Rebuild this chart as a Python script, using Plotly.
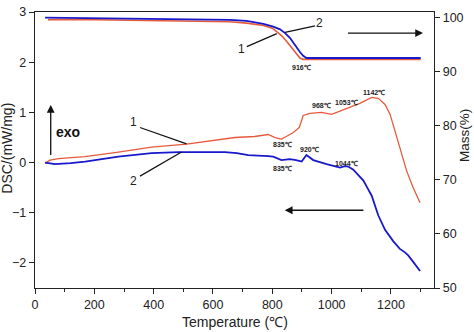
import plotly.graph_objects as go

# DSC curves (left axis)
dsc1_t = [34, 51, 79, 169, 281, 393, 511, 640, 674, 740, 786, 809, 831, 850, 871, 891,
          904, 927, 966, 1000, 1028, 1056, 1095, 1135, 1157, 1180, 1197, 1215, 1236, 1253,
          1275, 1298]
dsc1_v = [-0.01, 0.05, 0.08, 0.12, 0.21, 0.31, 0.37, 0.47, 0.50, 0.52, 0.56, 0.50, 0.47,
          0.53, 0.60, 0.70, 0.94, 0.98, 1.00, 0.96, 1.02, 1.09, 1.18, 1.30, 1.28, 1.16,
          0.96, 0.60, 0.18, -0.17, -0.50, -0.80]

dsc2_t = [34, 67, 120, 169, 281, 393, 483, 560, 640, 680, 719, 786, 803, 831, 859, 880,
          899, 915, 938, 983, 1028, 1045, 1056, 1073, 1084, 1095, 1107, 1120, 1135, 1157,
          1180, 1208, 1230, 1247, 1258, 1275, 1298]
dsc2_v = [0.00, -0.03, -0.01, 0.02, 0.12, 0.19, 0.21, 0.21, 0.21, 0.19, 0.15, 0.13, 0.12,
          0.05, 0.07, 0.05, 0.02, 0.15, 0.05, -0.03, -0.10, -0.07, -0.08, -0.14, -0.21,
          -0.30, -0.36, -0.50, -0.66, -1.05, -1.34, -1.57, -1.72, -1.79, -1.85, -1.98, -2.16]

# TG curves (right axis)
tg1_t = [44, 60, 200, 400, 600, 657, 713, 770, 800, 815, 830, 848, 862, 876, 886, 893,
         904, 950, 1050, 1150, 1300]
tg1_v = [99.55, 99.62, 99.58, 99.45, 99.30, 99.20, 98.95, 98.50, 98.00, 97.40, 96.70,
         95.60, 94.60, 93.50, 92.90, 92.50, 92.25, 92.25, 92.25, 92.25, 92.25]

tg2_t = [34, 100, 200, 300, 400, 500, 600, 657, 713, 770, 803, 826, 843, 860, 871, 882,
         893, 904, 910, 915, 950, 1050, 1150, 1300]
tg2_v = [99.95, 99.90, 99.85, 99.80, 99.72, 99.65, 99.58, 99.53, 99.35, 98.80, 98.30,
         97.80, 97.10, 96.20, 95.30, 94.40, 93.60, 92.90, 92.65, 92.50, 92.50, 92.50,
         92.48, 92.50]

x_ticks = [0, 200, 400, 600, 800, 1000, 1200]
dsc_ticks = [-2, -1, 0, 1, 2, 3]
mass_ticks = [50, 60, 70, 80, 90, 100]

# Peak labels: (temperature, dsc position, text)
peak_labels = [
    (899, 1.89, "916℃"),
    (967, 1.14, "968℃"),
    (1051, 1.20, "1053℃"),
    (1144, 1.40, "1142℃"),
    (834, 0.37, "835℃"),
    (925, 0.27, "920℃"),
    (1051, -0.01, "1044℃"),
    (834, -0.11, "835℃"),
]

RED = "#E65A3C"
BLUE = "#1818CC"
FONT = "Liberation Sans, Arial, sans-serif"

fig = go.Figure()
fig.add_trace(go.Scatter(x=dsc1_t, y=dsc1_v, mode="lines",
                         line=dict(color=RED, width=1.3), showlegend=False))
fig.add_trace(go.Scatter(x=dsc2_t, y=dsc2_v, mode="lines",
                         line=dict(color=BLUE, width=1.8), showlegend=False))
fig.add_trace(go.Scatter(x=tg1_t, y=tg1_v, mode="lines", yaxis="y2",
                         line=dict(color=RED, width=1.6), showlegend=False))
fig.add_trace(go.Scatter(x=tg2_t, y=tg2_v, mode="lines", yaxis="y2",
                         line=dict(color=BLUE, width=1.8), showlegend=False))

annotations = []
for t, v, s in peak_labels:
    annotations.append(dict(x=t, y=v, xref="x", yref="y", text="<b>%s</b>" % s,
                            showarrow=False, font=dict(size=7, color="#222", family=FONT)))

# curve numbers
for t, v, s, yr in [(958, 99.05, "2", "y2"), (697, 94.13, "1", "y2"),
                    (331, 0.80, "1", "y"), (331, -0.37, "2", "y")]:
    annotations.append(dict(x=t, y=v, xref="x", yref=yr, text=s, showarrow=False,
                            font=dict(size=12, color="#222", family=FONT)))

# direction arrows
annotations.append(dict(x=1308, y=97.1, ax=1050, ay=97.1, xref="x", yref="y2",
                        axref="x", ayref="y2", text="", showarrow=True,
                        arrowhead=2, arrowsize=1.2, arrowwidth=1.3, arrowcolor="#111"))
annotations.append(dict(x=842, y=-0.95, ax=1112, ay=-0.95, xref="x", yref="y",
                        axref="x", ayref="y", text="", showarrow=True,
                        arrowhead=2, arrowsize=1.2, arrowwidth=1.3, arrowcolor="#111"))
annotations.append(dict(x=53, y=1.15, ax=53, ay=0.12, xref="x", yref="y",
                        axref="x", ayref="y", text="", showarrow=True,
                        arrowhead=2, arrowsize=1.2, arrowwidth=1.3, arrowcolor="#111"))
annotations.append(dict(x=112, y=0.61, xref="x", yref="y", text="<b>exo</b>",
                        showarrow=False, font=dict(size=14, color="#111", family=FONT)))

# axis titles
title_font = dict(size=14, color="#222", family=FONT)
annotations.append(dict(x=-0.07, y=0.505, xref="paper", yref="paper", text="DSC/(mW/mg)",
                        xanchor="center", yanchor="middle", showarrow=False,
                        textangle=-90, font=title_font))
annotations.append(dict(x=0.5, y=-0.124, xref="paper", yref="paper", text="Temperature (℃)",
                        xanchor="center", yanchor="middle", showarrow=False, font=title_font))
annotations.append(dict(x=1.078, y=0.551, xref="paper", yref="paper", text="Mass(%)",
                        xanchor="center", yanchor="middle", showarrow=False,
                        textangle=-90, font=dict(size=13.5, color="#222", family=FONT)))

shapes = []
for x0, y0, x1, y1, yr in [(944, 98.45, 843, 97.24, "y2"), (714, 94.6, 815, 97.0, "y2"),
                           (354, 0.70, 511, 0.374, "y"), (354, -0.27, 494, 0.213, "y")]:
    shapes.append(dict(type="line", xref="x", yref=yr, x0=x0, y0=y0, x1=x1, y1=y1,
                       line=dict(color="#111", width=1.2)))

axis_common = dict(showline=True, linecolor="#222", linewidth=1.4, ticks="outside",
                   ticklen=5, tickwidth=1.2, tickcolor="#222", showgrid=False,
                   zeroline=False, ticklabeloverflow="allow",
                   tickfont=dict(size=12.5, color="#222", family=FONT))

fig.update_layout(
    width=474, height=332,
    margin=dict(l=35, r=40, t=5, b=44),
    paper_bgcolor="white", plot_bgcolor="white",
    xaxis=dict(range=[0, 1345], tickvals=x_ticks, mirror=True,
               minor=dict(dtick=100, tick0=0, ticks="outside", ticklen=3, tickcolor="#222"),
               **axis_common),
    yaxis=dict(range=[-2.5, 3.002], tickvals=dsc_ticks, **axis_common),
    yaxis2=dict(range=[50, 101], tickvals=mass_ticks, overlaying="y", side="right",
                **axis_common),
    annotations=annotations,
    shapes=shapes,
)

fig.write_html("out.html")
